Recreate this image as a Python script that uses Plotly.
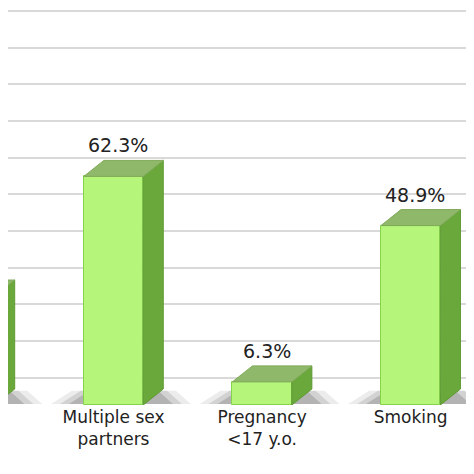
import plotly.graph_objects as go

categories = ["Early sexual debut", "Multiple sex<br>partners", "Pregnancy<br><17 y.o.", "Smoking"]
values = [29.7, 62.3, 6.3, 48.9]
labels = ["29.7%", "62.3%", "6.3%", "48.9%"]

xs = list(range(len(categories)))
W = 0.4          # front face width (x units)
DX = 0.135       # depth offset in x units
DY = 4.36        # depth offset in y units

fig = go.Figure()
shapes = []
for x, v in zip(xs, values):
    # soft shadow (layered)
    for k, a in [(0.0, 0.10), (0.06, 0.15), (0.12, 0.22)]:
        shapes.append(dict(type="path", xref="x", yref="y", layer="below",
            path=(f"M{x-W/2-0.22+k},{0.3} L{x+W/2+0.32-k},{0.3} "
                  f"L{x+W/2+0.22-k},{DY-0.5} L{x-W/2-0.08+k},{DY-0.5} Z"),
            fillcolor=f"rgba(70,70,70,{a})", line=dict(width=0)))
    # side face
    shapes.append(dict(type="path", xref="x", yref="y",
        path=f"M{x+W/2},{0} L{x+W/2+DX},{DY} L{x+W/2+DX},{v+DY} L{x+W/2},{v} Z",
        fillcolor="#6aa83c", line=dict(color="#5e9a32", width=1)))
    # top face
    shapes.append(dict(type="path", xref="x", yref="y",
        path=f"M{x-W/2},{v} L{x+W/2},{v} L{x+W/2+DX},{v+DY} L{x-W/2+DX},{v+DY} Z",
        fillcolor="#8fb86a", line=dict(color="#7faa58", width=1)))

fig.add_trace(go.Bar(x=xs, y=values, width=W,
    marker=dict(color="#b4f57a", line=dict(color="#86d24a", width=1)),
    hoverinfo="skip"))

for x, v, t in zip(xs, values, labels):
    fig.add_annotation(x=x + 0.03, y=v + DY, text=t, showarrow=False, yanchor="bottom", yshift=2,
                       font=dict(family="DejaVu Sans", size=19, color="#222"))

fig.update_layout(
    width=474, height=474, margin=dict(l=0, r=0, t=0, b=77, autoexpand=False),
    plot_bgcolor="white", paper_bgcolor="white", showlegend=False,
    shapes=shapes, bargap=0,
    xaxis=dict(range=[0.29, 3.48], tickvals=xs, ticktext=categories, showgrid=False,
               zeroline=False, showline=False, ticks="", automargin=False,
               tickfont=dict(family="DejaVu Sans", size=17, color="#222")),
    yaxis=dict(range=[0, 108.2], tick0=7.4, dtick=10, showgrid=True, gridcolor="#d9d9d9",
               gridwidth=2, zeroline=False, showticklabels=False, automargin=False),
)
fig.write_html("out.html")
